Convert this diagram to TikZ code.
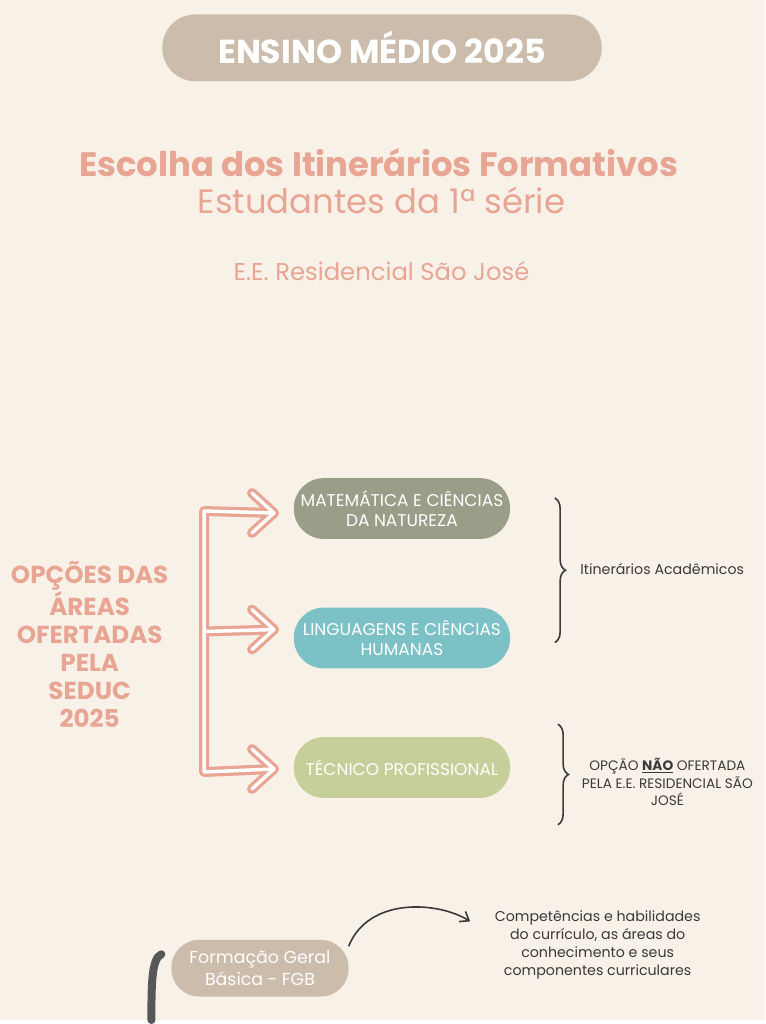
\documentclass[tikz,border=0pt]{standalone}
\usepackage{fontspec}
\setmainfont{Poppins}
\usetikzlibrary{decorations.pathreplacing,arrows.meta}
\definecolor{bg}{HTML}{F8F1E8}
\definecolor{tan}{HTML}{CBBCAB}
\definecolor{salmon}{HTML}{E8A594}
\definecolor{sage}{HTML}{9A9D88}
\definecolor{teal}{HTML}{7CC1C6}
\definecolor{olive}{HTML}{C6CF99}
\definecolor{ink}{HTML}{3A3A3A}
\begin{document}
\begin{tikzpicture}[x=0.75pt,y=-0.75pt,
 pill/.style={rounded corners=30*0.75pt,text=white,align=center,font=\fontsize{12.8}{15}\selectfont,minimum height=61*0.75pt,minimum width=217*0.75pt,inner sep=0pt},
 bar/.style={salmon,line width=10*0.75pt,line cap=round,line join=round},
 barin/.style={white,line width=3.5*0.75pt,line cap=round,line join=round},
 brc/.style={ink,line width=1.2pt,decorate,decoration={brace,amplitude=8pt}},
 small/.style={text=ink,align=center,font=\fontsize{10.7}{13.5}\selectfont}]
\fill[bg] (0,0) rectangle (768,1024);
\node[fill=tan,rounded corners=33*0.75pt,minimum width=441*0.75pt,minimum height=67*0.75pt,text=white,font=\bfseries\fontsize{25}{28}\selectfont] (hdr) at (383.5,48) {ENSINO MÉDIO 2025};
\node[text=salmon,font=\bfseries\fontsize{25.5}{28}\selectfont] (t1) at (380,163) {Escolha dos Itinerários Formativos};
\node[text=salmon,font=\fontsize{25.5}{28}\selectfont] (t2) at (383,201) {Estudantes da 1ª série};
\node[text=salmon,font=\fontsize{18.3}{21}\selectfont] (t3) at (383,272) {E.E. Residencial São José};
\node[text=salmon,align=center,font=\bfseries\fontsize{18.5}{21}\selectfont] (left) at (90,647) {OPÇÕES DAS\\ÁREAS\\OFERTADAS\\PELA\\SEDUC\\ 2025};
\node[pill,fill=sage] (m) at (403.5,510.5) {MATEMÁTICA E CIÊNCIAS\\DA NATUREZA};
\node[pill,fill=teal] (l) at (403.5,640.5) {LINGUAGENS E CIÊNCIAS\\HUMANAS};
\node[pill,fill=olive] (tp) at (403.5,770.5) {TÉCNICO PROFISSIONAL};
\coordinate (top) at (205,513);
\coordinate (bot) at (205,775);
\coordinate (a1) at (275,515);
\coordinate (a2) at (275,632);
\coordinate (a3) at (275,772);
\foreach \s in {bar,barin}{
 \draw[\s] (a1) -- (top) -- (bot) -- (a3);
 \draw[\s] (205,634) -- (a2);
 \foreach \a in {a1,a2,a3}{
  \draw[\s] ([shift={(-22,-20)}]\a) -- (\a) -- ([shift={(-22,20)}]\a);}
}
\draw[brc] (557,500) -- (557,645);
\node[small,anchor=west] (ia) at (578,571) {Itinerários Acadêmicos};
\draw[brc] (560,727) -- (560,828);
\node[small,font=\fontsize{10.3}{13.5}\selectfont] (op) at (670,785) {OPÇÃO \textbf{\underline{NÃO}} OFERTADA\\PELA E.E. RESIDENCIAL SÃO\\JOSÉ};
\node[fill=tan,rounded corners=28*0.75pt,minimum width=178*0.75pt,minimum height=57*0.75pt,text=white,align=center,font=\fontsize{13.1}{16}\selectfont] (fgb) at (261,972) {Formação Geral\\Básica - FGB};
\node[small] (comp) at (600,949) {Competências e habilidades\\do currículo, as áreas do\\conhecimento e seus\\componentes curriculares};
\coordinate (ce) at (472,925);
\draw[ink,line width=1.2pt,-{Straight Barb[length=6pt,width=9pt]}] (350,950) .. controls (370,900) and (440,905) .. (ce);
\coordinate (g1) at (162,958);
\coordinate (g2) at (152,1024);
\draw[ink!85,line width=8*0.75pt,line cap=round] (g1) .. controls (152,962) and (152,990) .. (g2);
\end{tikzpicture}
\end{document}
